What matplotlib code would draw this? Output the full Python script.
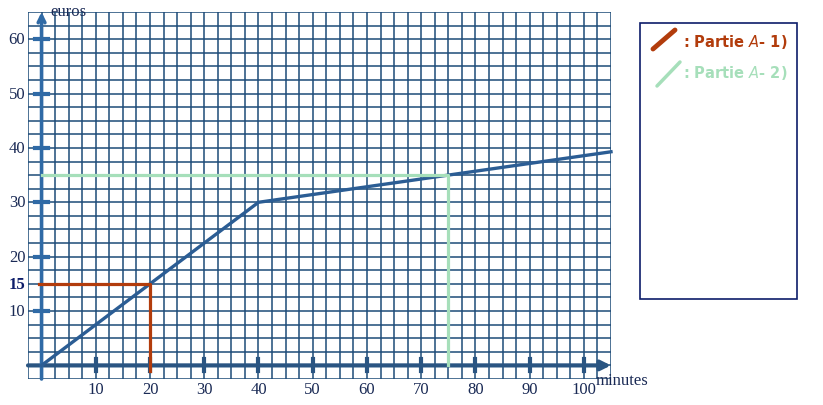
import numpy as np
import matplotlib.pyplot as plt
from matplotlib.patches import Rectangle

# price curve (minutes -> euros)
minutes = [0, 40, 105]
euros = [0, 30, 39.29]

# reading A-1 : 20 minutes -> 15 euros
a1_x = [-0.5, 20, 20]
a1_y = [15, 15, -1]
# reading A-2 : 35 euros -> 75 minutes
a2_x = [0, 75, 75]
a2_y = [35, 35, 0]

x_ticks = [10, 20, 30, 40, 50, 60, 70, 80, 90, 100]
y_ticks = [10, 20, 30, 40, 50, 60]

navy = '#1d4b78'
curve = '#2b5d94'
red = '#b23c0c'
green = '#a6dfba'

fig = plt.figure(figsize=(8.23, 4.06), dpi=100)
ax = fig.add_axes([28 / 823, 26 / 406, 583 / 823, 367 / 406])
ax.set_xlim(-2.5, 105)
ax.set_ylim(-2.5, 65)
ax.axis('off')

# square grid every 2.5
for gx in np.arange(-2.5, 105.01, 2.5):
    ax.plot([gx, gx], [-2.5, 65], color=navy, lw=1.1, zorder=1)
for gy in np.arange(-2.5, 65.01, 2.5):
    ax.plot([-2.5, 105], [gy, gy], color=navy, lw=1.1, zorder=1)

# axes with arrows
ax.annotate('', xy=(105, 0), xytext=(-2.5, 0),
            arrowprops=dict(arrowstyle='-|>', color='#2a5582', lw=3,
                            mutation_scale=14, shrinkA=0, shrinkB=0),
            annotation_clip=False, zorder=3)
ax.annotate('', xy=(0, 65), xytext=(0, -2.5),
            arrowprops=dict(arrowstyle='->', color='#2f6aa6', lw=2.6,
                            mutation_scale=12, shrinkA=0, shrinkB=0),
            annotation_clip=False, zorder=3)

for t in x_ticks:
    ax.plot([t, t], [-1.1, 1.1], color='#2a5582', lw=3, zorder=3, clip_on=False)
    ax.text(t, -2.9, str(t), ha='center', va='top', fontsize=12,
            family='Liberation Serif', color='#1a2a55')
for t in y_ticks:
    ax.plot([-1.2, 1.2], [t, t], color='#2f6aa6', lw=3, zorder=3, clip_on=False)
    ax.text(-3, t, str(t), ha='right', va='center', fontsize=12,
            family='Liberation Serif', color='#1a2a55')
ax.text(-3, 15, '15', ha='right', va='center', fontsize=12,
        family='Liberation Serif', weight='bold', color='#0d1d6a')

ax.text(1.7, 65.1, 'euros', ha='left', va='center', fontsize=12,
        family='Liberation Serif', color='#1a2a55')
ax.text(102.2, -1.2, 'minutes', ha='left', va='top', fontsize=12,
        family='Liberation Serif', color='#1a2a55')

# curve and readings
ax.plot(minutes, euros, color=curve, lw=2.4, zorder=4, clip_on=False)
ax.plot(a1_x, a1_y, color=red, lw=2.3, zorder=5, clip_on=False)
ax.plot(a2_x, a2_y, color=green, lw=2.3, zorder=5, clip_on=False)

# legend box
fig.patches.append(Rectangle((640 / 823, 1 - 300 / 406), 157 / 823, 276 / 406,
                             transform=fig.transFigure, fill=False,
                             edgecolor='#0d1d6a', lw=1.2))
fig.add_artist(plt.Line2D([653 / 823, 675 / 823], [1 - 50 / 406, 1 - 31 / 406],
                          transform=fig.transFigure, color=red, lw=3.5,
                          solid_capstyle='round'))
fig.add_artist(plt.Line2D([657 / 823, 680 / 823], [1 - 87 / 406, 1 - 63 / 406],
                          transform=fig.transFigure, color=green, lw=2.5,
                          solid_capstyle='round'))
fig.text(683 / 823, 1 - 42 / 406, r': Partie $\mathit{A}$- 1)', color=red,
         fontsize=10.5, weight='bold', va='center', ha='left')
fig.text(683 / 823, 1 - 73 / 406, r': Partie $\mathit{A}$- 2)', color=green,
         fontsize=10.5, weight='bold', va='center', ha='left')

fig.savefig('out.png', dpi=100)
